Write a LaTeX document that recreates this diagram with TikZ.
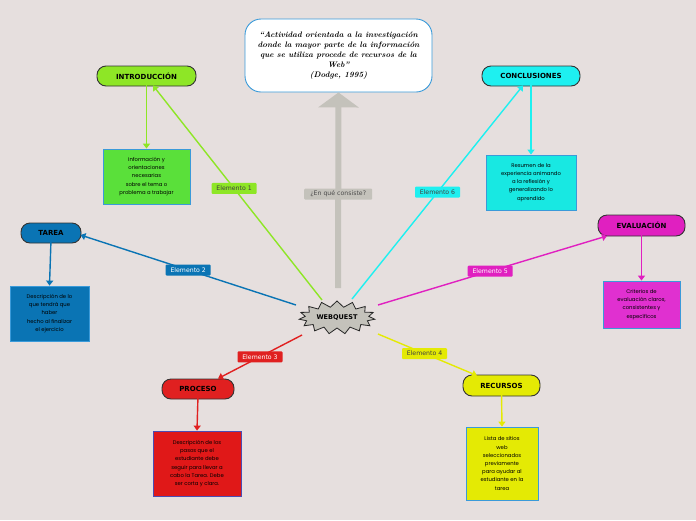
\documentclass[tikz,border=0pt]{standalone}
\usepackage{fontspec}
\setmainfont{Latin Modern Roman}
\newfontfamily\hdrfont{DejaVu Sans}
\newfontfamily\boxfont{Poppins}
\usetikzlibrary{shapes.symbols,arrows.meta,calc}
\definecolor{bg}{HTML}{E6DFDE}
\definecolor{cgreen}{HTML}{8EE626}
\definecolor{cgreenbox}{HTML}{5AE03A}
\definecolor{cblue}{HTML}{0A74B4}
\definecolor{cred}{HTML}{E02020}
\definecolor{credbox}{HTML}{E01818}
\definecolor{cyel}{HTML}{E4EA04}
\definecolor{cmag}{HTML}{E020C0}
\definecolor{cmagbox}{HTML}{E030D0}
\definecolor{ccyan}{HTML}{1EF0F0}
\definecolor{ccyanbox}{HTML}{18E8E2}
\definecolor{cgray}{HTML}{C4C2BB}
\definecolor{bborder}{HTML}{3A9AD9}
\tikzset{
  hdr/.style={draw=black!80, line width=0.9pt, rounded corners=9pt, font=\hdrfont\bfseries\fontsize{7}{8}\selectfont, inner sep=0pt},
  infobox/.style={draw=bborder, line width=0.8pt, align=center, font=\boxfont\fontsize{5.3}{8.2}\selectfont, inner sep=0pt},
  lbl/.style={font=\hdrfont\fontsize{6.2}{7}\selectfont, inner sep=0pt, minimum height=11pt, minimum width=45pt, rounded corners=1pt},
  conn/.style={line width=1.4pt, -{Triangle[width=7pt,length=5pt]}},
}
\begin{document}
\begin{tikzpicture}[x=1pt,y=-1pt]
\fill[bg] (0,0) rectangle (696,520);
\useasboundingbox (0,0) rectangle (696,520);

% quote
\node[draw=bborder, line width=0.9pt, fill=white, rounded corners=16pt, minimum width=187pt, minimum height=73pt, inner sep=0pt, align=center, font=\bfseries\itshape\fontsize{8}{10}\selectfont] (quote) at (338.5,55.5)
  {``Actividad orientada a la investigación\\donde la mayor parte de la información\\que se utiliza procede de recursos de la\\Web''\\(Dodge, 1995)};

% center
\node[starburst, starburst points=15, starburst point height=6pt, random starburst=0, draw=black!85, fill=cgray, line width=0.8pt, minimum width=76pt, minimum height=33pt, inner sep=0pt, font=\hdrfont\bfseries\fontsize{6.5}{7}\selectfont] (wq) at (337,317.5) {WEBQUEST};

% headers
\node[hdr, fill=cgreen, minimum width=99pt, minimum height=20pt] (intro) at (146.5,76) {INTRODUCCIÓN};
\node[hdr, fill=cblue, minimum width=60pt, minimum height=20pt] (tarea) at (51,233) {TAREA};
\node[hdr, fill=ccyan, minimum width=98pt, minimum height=20pt] (concl) at (531,76) {CONCLUSIONES};
\node[hdr, fill=cmag, minimum width=87pt, minimum height=21pt] (eval) at (641.5,225.5) {EVALUACIÓN};
\node[hdr, fill=cred, minimum width=72pt, minimum height=20pt] (proc) at (198,389) {PROCESO};
\node[hdr, fill=cyel, minimum width=77pt, minimum height=21pt] (recu) at (501.5,385.5) {RECURSOS};

% info boxes
\node[infobox, fill=cgreenbox, minimum width=87pt, minimum height=55pt] (introb) at (146.5,176.5) {Información y\\orientaciones\\necesarias\\sobre el tema o\\problema a trabajar};
\node[infobox, fill=cblue, minimum width=79pt, minimum height=55pt] (tareab) at (49.5,313.5) {Descripción de lo\\que tendrá que\\haber\\hecho al finalizar\\el ejercicio};
\node[infobox, fill=ccyanbox, minimum width=90pt, minimum height=55pt] (conclb) at (531,182.5) {Resumen de la\\experiencia animando\\a la reflexión y\\generalizando lo\\aprendido};
\node[infobox, fill=cmagbox, minimum width=77pt, minimum height=47pt] (evalb) at (641.5,304.5) {Criterios de\\evaluación claros,\\consistentes y\\específicos};
\node[infobox, draw=blue!40!gray, fill=credbox, minimum width=88pt, minimum height=65pt] (procb) at (197,463.5) {Descripción de los\\pasos que el\\estudiante debe\\seguir para llevar a\\cabo la Tarea. Debe\\ser corta y clara.};
\node[infobox, fill=cyel, minimum width=72pt, minimum height=73pt] (recub) at (502,463.5) {Lista de sitios\\web\\seleccionados\\previamente\\para ayudar al\\estudiante en la\\tarea};

% vertical arrows header -> box
\draw[conn, cgreen] ([yshift=4pt]intro.south) -- (introb.north);
\draw[conn, cblue] ([yshift=4pt]tarea.south) -- (tareab.north);
\draw[conn, ccyan] ([yshift=4pt]concl.south) -- (conclb.north);
\draw[conn, cmag] ([yshift=4pt]eval.south) -- (evalb.north);
\draw[conn, cred] ([yshift=4pt]proc.south) -- (procb.north);
\draw[conn, cyel] ([yshift=4pt]recu.south) -- (recub.north);

% start coordinates around the center
\coordinate (s1) at (322,300);
\coordinate (s2) at (296,305);
\coordinate (s3) at (302,335);
\coordinate (s4) at (378,334);
\coordinate (s5) at (378,305);
\coordinate (s6) at (352,299);
\coordinate (sq) at (338,288);

% main gray arrow
\draw[cgray, line width=6pt, -{Triangle[width=40pt,length=15pt]}] (sq) -- (quote.south)
  node[pos=0.48, lbl, fill=cgray, text=black!70, minimum width=68pt] {¿En qué consiste?};

% element connectors
\draw[conn, cgreen] (s1) -- ([xshift=6.5pt,yshift=1pt]intro.south)
  node[pos=0.52, lbl, fill=cgreen, text=black!75] {Elemento 1};
\draw[conn, cblue] (s2) -- ([xshift=-1pt,yshift=-2pt]tarea.east)
  node[pos=0.5, lbl, fill=cblue, text=white] {Elemento 2};
\draw[conn, cred] (s3) -- ([xshift=20pt]proc.north)
  node[pos=0.5, lbl, fill=cred, text=white] {Elemento 3};
\draw[conn, cyel] (s4) -- ([xshift=-24.5pt,yshift=-1pt]recu.north)
  node[pos=0.47, lbl, fill=cyel, text=black!75] {Elemento 4};
\draw[conn, cmag] (s5) -- ([xshift=-34.5pt,yshift=0.5pt]eval.south)
  node[pos=0.49, lbl, fill=cmag, text=white] {Elemento 5};
\draw[conn, ccyan] (s6) -- ([xshift=-8pt,yshift=1pt]concl.south)
  node[pos=0.5, lbl, fill=ccyan, text=black!75] {Elemento 6};
\end{tikzpicture}
\end{document}
